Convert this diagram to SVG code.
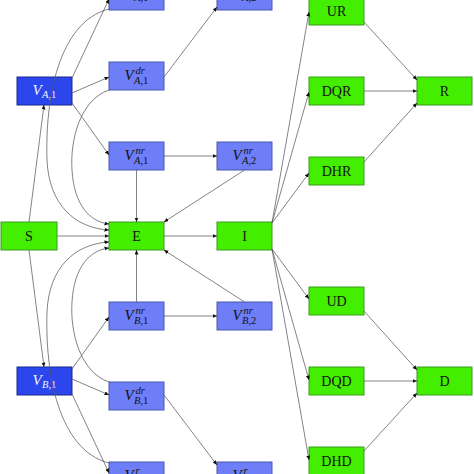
<svg xmlns="http://www.w3.org/2000/svg" width="474" height="474" viewBox="0 0 474 474">
<style>
.g{fill:#44ee00;stroke:#3a9a22;stroke-width:1}
.b{fill:#6e7ef6;stroke:#4a56b0;stroke-width:1}
.d{fill:#2a46ec;stroke:#1a2890;stroke-width:1}
.t{font-family:"Liberation Serif",serif;font-size:14px;fill:#111;text-anchor:middle}
.v{font-family:"Liberation Serif",serif;font-size:15px;font-style:italic;fill:#111}
.s{font-family:"Liberation Serif",serif;font-size:10.5px;fill:#111}
.w{fill:#f4f4ff}
.c path{fill:none;stroke:#5a5a5a;stroke-width:0.75;marker-end:url(#ah)}
</style>
<defs>
<marker id="ah" markerUnits="userSpaceOnUse" markerWidth="6" markerHeight="6" refX="4.5" refY="2" orient="auto">
<path d="M0,0 L4.5,2 L0,4 z" fill="#111"/>
</marker>
</defs>
<rect width="474" height="474" fill="#fff"/>
<g id="nodes">
<g id="VrA1"><rect class="b" x="109" y="-18" width="55" height="28"/><text class="v" x="124.5" y="-4">V</text><text class="s" x="135.5" y="-10.5" font-style="italic">r</text><text class="s" x="134" y="0.5"><tspan font-style="italic">A</tspan>,1</text></g>
<g id="VrA2"><rect class="b" x="217" y="-18" width="55" height="28"/><text class="v" x="232.5" y="-4">V</text><text class="s" x="243.5" y="-10.5" font-style="italic">r</text><text class="s" x="242" y="0.5"><tspan font-style="italic">A</tspan>,2</text></g>
<g id="VA1"><rect class="d" x="17" y="77" width="55" height="28"/><text class="v w" x="32.5" y="95">V</text><text class="s w" x="42" y="98"><tspan font-style="italic">A</tspan>,1</text></g>
<g id="VdrA1"><rect class="b" x="109" y="62" width="55" height="28"/><text class="v" x="124.5" y="80">V</text><text class="s" x="135.5" y="73.5" font-style="italic">dr</text><text class="s" x="134" y="84"><tspan font-style="italic">A</tspan>,1</text></g>
<g id="VnrA1"><rect class="b" x="109" y="142" width="55" height="28"/><text class="v" x="124.5" y="160">V</text><text class="s" x="135.5" y="153.5" font-style="italic">nr</text><text class="s" x="134" y="164"><tspan font-style="italic">A</tspan>,1</text></g>
<g id="VnrA2"><rect class="b" x="217" y="142" width="55" height="28"/><text class="v" x="232.5" y="160">V</text><text class="s" x="243.5" y="153.5" font-style="italic">nr</text><text class="s" x="242" y="164"><tspan font-style="italic">A</tspan>,2</text></g>
<g id="S"><rect class="g" x="1" y="222" width="56" height="28"/><text class="t" x="29" y="241">S</text></g>
<g id="E"><rect class="g" x="109" y="222" width="55" height="28"/><text class="t" x="136.5" y="241">E</text></g>
<g id="I"><rect class="g" x="217" y="222" width="55" height="28"/><text class="t" x="244.5" y="241">I</text></g>
<g id="VnrB1"><rect class="b" x="109" y="302" width="55" height="28"/><text class="v" x="124.5" y="320">V</text><text class="s" x="135.5" y="313.5" font-style="italic">nr</text><text class="s" x="134" y="324"><tspan font-style="italic">B</tspan>,1</text></g>
<g id="VnrB2"><rect class="b" x="217" y="302" width="55" height="28"/><text class="v" x="232.5" y="320">V</text><text class="s" x="243.5" y="313.5" font-style="italic">nr</text><text class="s" x="242" y="324"><tspan font-style="italic">B</tspan>,2</text></g>
<g id="VB1"><rect class="d" x="17" y="367" width="55" height="28"/><text class="v w" x="32.5" y="385">V</text><text class="s w" x="42" y="388"><tspan font-style="italic">B</tspan>,1</text></g>
<g id="VdrB1"><rect class="b" x="109" y="382" width="55" height="28"/><text class="v" x="124.5" y="400">V</text><text class="s" x="135.5" y="393.5" font-style="italic">dr</text><text class="s" x="134" y="404"><tspan font-style="italic">B</tspan>,1</text></g>
<g id="VrB1"><rect class="b" x="109" y="462" width="55" height="28"/><text class="v" x="124.5" y="480">V</text><text class="s" x="135.5" y="473.5" font-style="italic">r</text><text class="s" x="134" y="484"><tspan font-style="italic">B</tspan>,1</text></g>
<g id="VrB2"><rect class="b" x="217" y="462" width="55" height="28"/><text class="v" x="232.5" y="480">V</text><text class="s" x="243.5" y="473.5" font-style="italic">r</text><text class="s" x="242" y="484"><tspan font-style="italic">B</tspan>,2</text></g>
<g id="UR"><rect class="g" x="309" y="-3" width="55" height="28"/><text class="t" x="336.5" y="16">UR</text></g>
<g id="DQR"><rect class="g" x="309" y="77" width="55" height="28"/><text class="t" x="336.5" y="96">DQR</text></g>
<g id="DHR"><rect class="g" x="309" y="157" width="55" height="28"/><text class="t" x="336.5" y="176">DHR</text></g>
<g id="UD"><rect class="g" x="309" y="287" width="55" height="28"/><text class="t" x="336.5" y="306">UD</text></g>
<g id="DQD"><rect class="g" x="309" y="367" width="55" height="28"/><text class="t" x="336.5" y="386">DQD</text></g>
<g id="DHD"><rect class="g" x="309" y="447" width="55" height="28"/><text class="t" x="336.5" y="466">DHD</text></g>
<g id="R"><rect class="g" x="417" y="77" width="55" height="28"/><text class="t" x="444.5" y="96">R</text></g>
<g id="D"><rect class="g" x="417" y="367" width="55" height="28"/><text class="t" x="444.5" y="386">D</text></g>
</g>
<g id="connectors" class="c">
<path d="M57,236 L109,236"/>
<path d="M164,236 L217,236"/>
<path d="M29,222 L44,105"/>
<path d="M29,250 L44,367"/>
<path d="M72,93 L109,77"/>
<path d="M72,103 L109,155"/>
<path d="M72,78 L109,-1"/>
<path d="M72,369 L109,317"/>
<path d="M72,379 L109,395"/>
<path d="M72,394 L109,473"/>
<path d="M164,77 L217,7"/>
<path d="M164,395 L217,465"/>
<path d="M164,156 L217,156"/>
<path d="M164,316 L217,316"/>
<path d="M136.5,170 L136.5,222"/>
<path d="M136.5,302 L136.5,250"/>
<path d="M244.5,170 L164,222"/>
<path d="M244.5,302 L164,250"/>
<path d="M109,9 C58,22 45,100 47,160 C49,205 75,228 109,230"/>
<path d="M109,90 C80,100 70,140 72,170 C74,205 90,222 109,224"/>
<path d="M109,463 C58,450 45,372 47,312 C49,267 75,244 109,242"/>
<path d="M109,382 C80,372 70,332 72,302 C74,267 90,250 109,248"/>
<path d="M272,223 L309,12"/>
<path d="M272,223 L309,92"/>
<path d="M272,223 L309,173"/>
<path d="M272,249 L309,299"/>
<path d="M272,249 L309,380"/>
<path d="M272,249 L309,460"/>
<path d="M364,22 L417,80"/>
<path d="M364,91 L417,91"/>
<path d="M364,162 L417,103"/>
<path d="M364,311 L417,370"/>
<path d="M364,381 L417,381"/>
<path d="M364,451 L417,393"/>
</g>
</svg>
